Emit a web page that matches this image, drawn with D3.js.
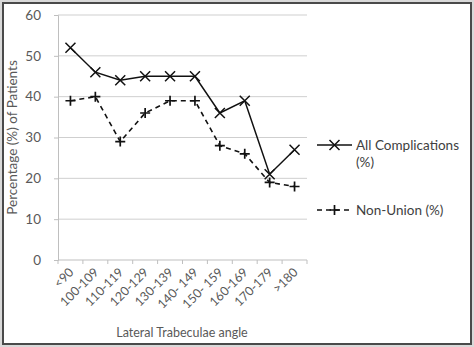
<!DOCTYPE html>
<html>
<head>
<meta charset="utf-8">
<script src="https://cdn.jsdelivr.net/npm/d3@7"></script>
<style>
  html, body { margin: 0; padding: 0; background: #d9d9d9; }
  svg { display: block; }
</style>
</head>
<body>
<script>
// Complication rates by lateral trabeculae angle
const categories = ["<90", "100-109", "110-119", "120-129", "130-139", "140- 149", "150- 159", "160-169", "170-179", ">180"];
const allComplications = [52, 46, 44, 45, 45, 45, 36, 39, 21, 27];
const nonUnion = [39, 40, 29, 36, 39, 39, 28, 26, 19, 18];
const yTicks = [0, 10, 20, 30, 40, 50, 60];

const W = 474, H = 347;
const font = "Lato, 'Open Sans', sans-serif";
const textColor = "#595959";

const svg = d3.select("body").append("svg").attr("width", W).attr("height", H);

// Frame
svg.append("rect").attr("x", 3).attr("y", 3).attr("width", 468).attr("height", 341)
  .attr("fill", "#fff").attr("stroke", "#4a4a4a").attr("stroke-width", 2);

const plot = { left: 58, right: 307, top: 15, bottom: 260 };

const x = d3.scaleBand().domain(categories).range([plot.left, plot.right]);
const y = d3.scaleLinear().domain([0, 60]).range([plot.bottom, plot.top]);

// Gridlines
svg.append("g").selectAll("line").data(yTicks.filter(d => d > 0)).join("line")
  .attr("x1", plot.left).attr("x2", plot.right)
  .attr("y1", d => y(d)).attr("y2", d => y(d))
  .attr("stroke", "#cfcfcf").attr("stroke-width", 1);

// Y axis
const yAxis = svg.append("g").attr("transform", `translate(${plot.left},0)`)
  .call(d3.axisLeft(y).tickValues(yTicks).tickSize(4).tickPadding(13));
yAxis.select(".domain").attr("stroke", "#bfbfbf");
yAxis.selectAll(".tick line").attr("stroke", "#bfbfbf");
yAxis.selectAll(".tick text").attr("fill", textColor).attr("font-family", font).attr("font-size", 13.5);

// X axis with ticks at category boundaries
const xAxisG = svg.append("g").attr("transform", `translate(0,${plot.bottom})`);
xAxisG.append("line").attr("x1", plot.left).attr("x2", plot.right)
  .attr("stroke", "#bfbfbf");
const boundaries = categories.map(c => x(c)).concat([x(categories[categories.length - 1]) + x.bandwidth()]);
xAxisG.selectAll("line.tk").data(boundaries).join("line").attr("class", "tk")
  .attr("x1", d => d).attr("x2", d => d).attr("y1", 0).attr("y2", 4)
  .attr("stroke", "#bfbfbf");
xAxisG.selectAll("text").data(categories).join("text")
  .attr("transform", d => `translate(${x(d) + x.bandwidth() / 2 + 4},${13}) rotate(-45)`)
  .attr("text-anchor", "end")
  .attr("fill", textColor).attr("font-family", font).attr("font-size", 12.5)
  .text(d => d);

// Axis titles
svg.append("text").attr("transform", `translate(17,${(plot.top + plot.bottom) / 2}) rotate(-90)`)
  .attr("text-anchor", "middle").attr("fill", textColor).attr("font-family", font).attr("font-size", 13.5)
  .text("Percentage (%) of Patients");
svg.append("text").attr("x", 182).attr("y", 337)
  .attr("text-anchor", "middle").attr("fill", textColor).attr("font-family", font).attr("font-size", 12.5)
  .text("Lateral Trabeculae angle");

const cx = (d, i) => x(categories[i]) + x.bandwidth() / 2;
const line = d3.line().x((d, i) => cx(d, i)).y(d => y(d));

// Markers
function crossMarker(g, px, py) {
  const s = 5;
  g.append("path").attr("d", `M${px - s},${py - s}L${px + s},${py + s}M${px - s},${py + s}L${px + s},${py - s}`)
    .attr("stroke", "#111").attr("stroke-width", 1.5).attr("fill", "none");
}
function plusMarker(g, px, py) {
  const s = 5;
  g.append("path").attr("d", `M${px - s},${py}L${px + s},${py}M${px},${py - s}L${px},${py + s}`)
    .attr("stroke", "#111").attr("stroke-width", 1.7).attr("fill", "none");
}

// Non-union series (dashed)
svg.append("path").datum(nonUnion).attr("d", line)
  .attr("fill", "none").attr("stroke", "#111").attr("stroke-width", 1.6).attr("stroke-dasharray", "5,4");
const gNU = svg.append("g");
nonUnion.forEach((v, i) => plusMarker(gNU, cx(v, i), y(v)));

// All complications series (solid)
svg.append("path").datum(allComplications).attr("d", line)
  .attr("fill", "none").attr("stroke", "#111").attr("stroke-width", 1.5);
const gAC = svg.append("g");
allComplications.forEach((v, i) => crossMarker(gAC, cx(v, i), y(v)));

// Legend
const lg = svg.append("g");
lg.append("line").attr("x1", 317).attr("x2", 352).attr("y1", 145).attr("y2", 145)
  .attr("stroke", "#111").attr("stroke-width", 1.5);
crossMarker(lg, 334.5, 145);
lg.append("text").attr("x", 356).attr("y", 149.5).attr("fill", "#404040")
  .attr("font-family", font).attr("font-size", 13.5).text("All Complications");
lg.append("text").attr("x", 356).attr("y", 166.5).attr("fill", "#404040")
  .attr("font-family", font).attr("font-size", 13.5).text("(%)");

lg.append("line").attr("x1", 317).attr("x2", 352).attr("y1", 210).attr("y2", 210)
  .attr("stroke", "#111").attr("stroke-width", 1.6).attr("stroke-dasharray", "5,4");
plusMarker(lg, 334.5, 210);
lg.append("text").attr("x", 356).attr("y", 214.5).attr("fill", "#404040")
  .attr("font-family", font).attr("font-size", 13.5).text("Non-Union (%)");
</script>
</body>
</html>
